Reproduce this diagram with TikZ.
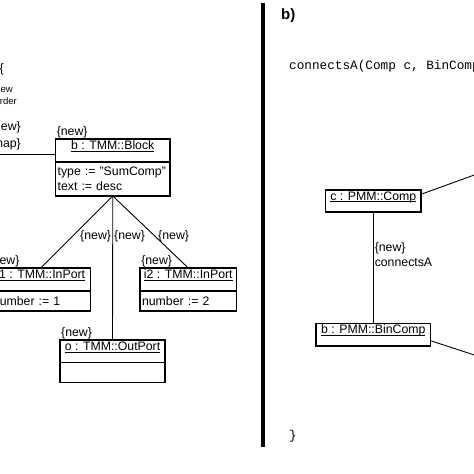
\documentclass[tikz,border=0pt]{standalone}
\usepackage{fontspec}
\setmainfont{Liberation Sans}
\newfontfamily\codefont{Liberation Mono}
\usetikzlibrary{positioning}

\newcommand{\objname}[1]{\underline{\smash{#1}}}

\tikzset{
  objhead/.style={draw, line width=1.3pt, inner sep=0pt, outer sep=0pt, minimum height=23,
    font=\fontsize{12.3}{15}\selectfont},
  objattr/.style={draw, line width=1.3pt, inner sep=2pt, outer sep=0pt, align=left,
    font=\fontsize{12.3}{15}\selectfont},
  link/.style={line width=0.9pt},
  lbl/.style={inner sep=1pt, font=\fontsize{12.3}{15}\selectfont},
  note/.style={inner sep=1pt, font=\fontsize{9.5}{11}\selectfont},
  code/.style={inner sep=0pt, font=\codefont\fontsize{12.7}{15}\selectfont},
}

\begin{document}
\begin{tikzpicture}[x=1pt, y=-1pt]
  \useasboundingbox (0,0) rectangle (474,474);
  \clip (0,0) rectangle (474,474);

  % part a)
  \node[lbl, anchor=east] (brace) at (5,69) {\{};
  \node[note, anchor=east] (notenew) at (14,90) {new};
  \node[note, anchor=east] (noteorder) at (18,101) {order};

  \node[objhead, minimum width=114.4] (b) at (112.8,150.5) {\objname{b : TMM::Block}};
  \node[objattr, text width=110.4, minimum height=34, below=0pt of b] (battr)
    {type := "SumComp"\\text := desc};
  \node[lbl, anchor=south west] (bnew) at (b.north west) {\{new\}};

  \coordinate (bin) at (-10,154);
  \draw[link] (bin) -- (bin -| b.west);
  \node[lbl, align=right, anchor=south east, font=\fontsize{12.3}{17}\selectfont]
    (bmap) at (22,151) {\{new\}\\\{map\}};

  \node[objhead, minimum width=99.7] (ione) at (40.8,279.5) {\objname{i1 : TMM::InPort}};
  \node[objattr, text width=95.7, minimum height=20, below=0pt of ione] (ioneattr) {number := 1};
  \node[lbl, anchor=south west, xshift=-3.5pt] (ionenew) at (ione.north west) {\{new\}};

  \node[objhead, minimum width=96.5] (itwo) at (188.3,279.5) {\objname{i2 : TMM::InPort}};
  \node[objattr, text width=92.5, minimum height=20, below=0pt of itwo] (itwoattr) {number := 2};
  \node[lbl, anchor=south west] (itwonew) at (itwo.north west) {\{new\}};

  \node[objhead, minimum width=105, minimum height=22.7] (o) at (112.5,351.3) {\objname{o : TMM::OutPort}};
  \node[objattr, text width=101, minimum height=20, below=0pt of o] (oattr) {};
  \node[lbl, anchor=south west] (onew) at (o.north west) {\{new\}};

  \draw[link] (battr.south) -- node[lbl, pos=0.556, anchor=west, xshift=6pt] (linkone) {\{new\}} (ione.north);
  \draw[link] (battr.south) -- node[lbl, pos=0.278, anchor=west] (linkout) {\{new\}} (o.north);
  \draw[link] (battr.south) -- node[lbl, pos=0.556, anchor=west, xshift=2pt] (linktwo) {\{new\}} (itwo.north);

  % separator
  \draw[line width=4pt] (263,3) -- (263,447);

  % part b)
  \node[inner sep=0pt, anchor=west, font=\bfseries\fontsize{15}{18}\selectfont] (title) at (281,16) {b)};
  \node[code, anchor=base west] (sig) at (289,69) {connectsA(Comp c, BinComp};
  \node[code, anchor=base west] (close) at (289,439) {\}};

  \node[objhead, line width=1.6pt, minimum width=95.3, minimum height=22] (c) at (373.3,201) {\objname{c : PMM::Comp}};
  \node[objhead, line width=1.6pt, minimum width=114.7, minimum height=22.7] (bb) at (373.3,334.7) {\objname{b : PMM::BinComp}};

  \draw[link] (c.south) -- node[lbl, pos=0.38, anchor=west, align=left] (conn) {\{new\}\\connectsA} (bb.north);

  \coordinate (cfar) at (500,165.7);
  \draw[link] (c.8) -- (cfar);
  \coordinate (bbfar) at (500,363.4);
  \draw[link] (bb.-6) -- (bbfar);
\end{tikzpicture}
\end{document}
